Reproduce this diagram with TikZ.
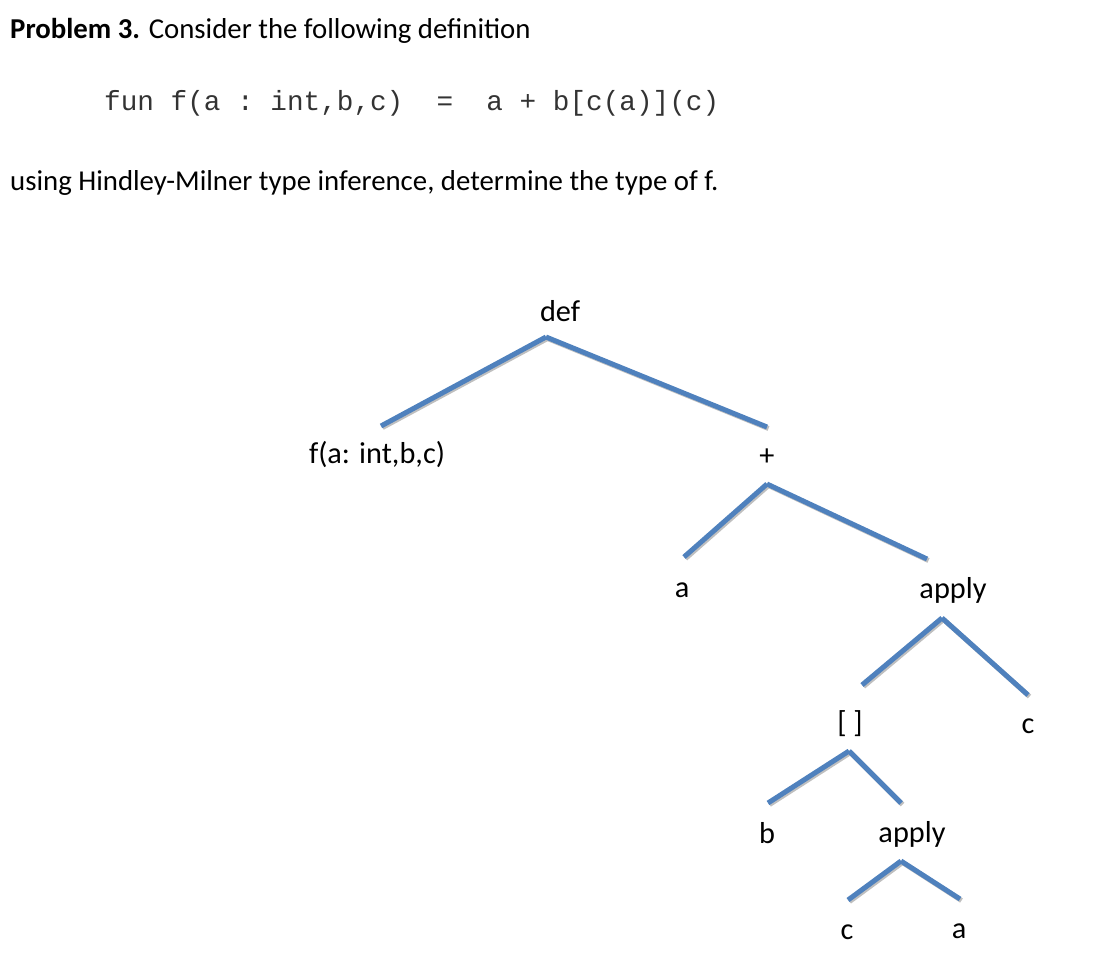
\documentclass[tikz,border=0pt]{standalone}
\usepackage{fontspec}
\setmainfont{Carlito}
\setmonofont{Liberation Mono}
\usepackage{tikz}
\definecolor{branchblue}{RGB}{79,129,189}

\begin{document}
\begin{tikzpicture}[x=1pt,y=-1pt,
	hdr/.style={anchor=base west,inner sep=0pt,font=\fontsize{28.8}{34}\selectfont},
	code/.style={anchor=base west,inner sep=0pt,text=black!80,font=\ttfamily\fontsize{27.7}{32}\selectfont},
	lbl/.style={anchor=base,inner sep=0pt,font=\fontsize{30.3}{36}\selectfont},
	branch/.style={draw=branchblue,line width=5pt,preaction={draw=black!25,line width=5pt,transform canvas={shift={(1.5pt,-1.5pt)}}}}]
	\useasboundingbox (0,0) rectangle (1114,978);
	\node[hdr] (title) at (10,38) {\textbf{Problem 3.} Consider the following definition};
	\node[code] (defn) at (104,110) {fun~f(a~:~int,b,c)~~=~~a~+~b[c(a)](c)};
	\node[hdr] (task) at (10,190) {using Hindley-Milner type inference, determine the type of f.};
	\node[lbl] (def) at (560,321) {def};
	\node[lbl] (fargs) at (377,463) {f(a: int,b,c)};
	\node[lbl] (plus) at (767,465) {+};
	\node[lbl] (a1) at (682,597) {a};
	\node[lbl] (apply1) at (953,598) {apply};
	\node[lbl] (idx) at (850,732) {[ ]};
	\node[lbl] (c1) at (1028,733) {c};
	\node[lbl] (b) at (767,843) {b};
	\node[lbl] (apply2) at (912,842) {apply};
	\node[lbl] (c2) at (847,939) {c};
	\node[lbl] (a2) at (959,938) {a};
	\coordinate (def-j) at (546,337);
	\coordinate (fargs-e) at (381,426);
	\coordinate (plus-e) at (767,427);
	\coordinate (plus-j) at (767,484);
	\coordinate (a1-e) at (684,557);
	\coordinate (apply1-e) at (927,559);
	\coordinate (apply1-j) at (942,618);
	\coordinate (idx-e) at (862,685);
	\coordinate (c1-e) at (1028,695);
	\coordinate (idx-j) at (849,751);
	\coordinate (b-e) at (768,803);
	\coordinate (apply2-e) at (901,803);
	\coordinate (apply2-j) at (901,861);
	\coordinate (c2-e) at (848,900);
	\coordinate (a2-e) at (960,899);
	\draw[branch] (def-j) -- (fargs-e);
	\draw[branch] (def-j) -- (plus-e);
	\draw[branch] (plus-j) -- (a1-e);
	\draw[branch] (plus-j) -- (apply1-e);
	\draw[branch] (apply1-j) -- (idx-e);
	\draw[branch] (apply1-j) -- (c1-e);
	\draw[branch] (idx-j) -- (b-e);
	\draw[branch] (idx-j) -- (apply2-e);
	\draw[branch] (apply2-j) -- (c2-e);
	\draw[branch] (apply2-j) -- (a2-e);
\end{tikzpicture}
\end{document}
